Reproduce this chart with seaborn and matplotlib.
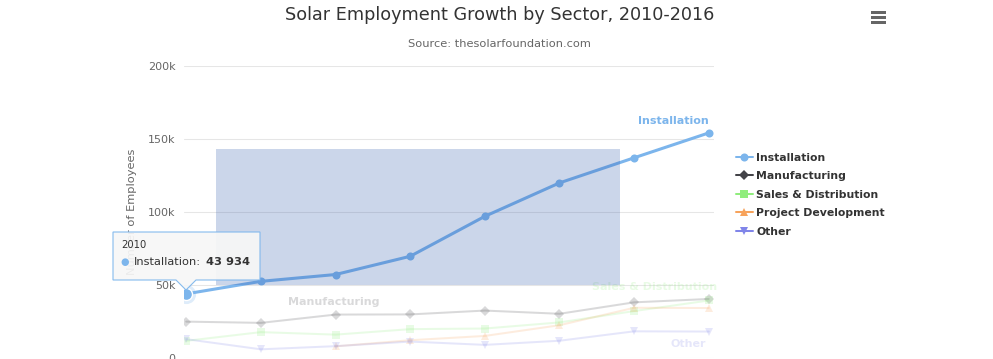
import numpy as np
import pandas as pd
import matplotlib
matplotlib.use("Agg")
import matplotlib.pyplot as plt
import seaborn as sns
from matplotlib.lines import Line2D
from matplotlib.patches import Polygon, Rectangle

# --- Data ---
years = [2010, 2011, 2012, 2013, 2014, 2015, 2016, 2017]
installation = [43934, 52503, 57177, 69658, 97031, 119931, 137133, 154175]
manufacturing = [24916, 24064, 29742, 29851, 32490, 30282, 38121, 40434]
sales_distribution = [11744, 17722, 16005, 19771, 20185, 24377, 32147, 39387]
project_development = [np.nan, np.nan, 7988, 12169, 15112, 22452, 34400, 34227]
other = [12908, 5948, 8105, 11248, 8989, 11816, 18274, 18111]

series_names = ["Installation", "Manufacturing", "Sales & Distribution",
                "Project Development", "Other"]
series_values = [installation, manufacturing, sales_distribution,
                 project_development, other]
colors = ["#7cb5ec", "#434348", "#90ed7d", "#f7a35c", "#8085e9"]
markers = ["o", "D", "s", "^", "v"]
marker_sizes = [5.8, 4.6, 5.4, 5.8, 5.8]

y_ticks = [0, 50000, 100000, 150000, 200000]
y_tick_labels = ["0", "50k", "100k", "150k", "200k"]

W, H = 993, 359


def px(x, y):
    """pixel (from top-left) -> inches for fig.dpi_scale_trans"""
    return (x / 100, (H - y) / 100)


# --- Plot ---
sns.set_theme(style="white")
plt.rcParams["font.family"] = ["DejaVu Sans"]

fig = plt.figure(figsize=(W / 100, H / 100), dpi=100)
ax = fig.add_axes([184 / W, 1 - 358 / H, (714 - 184) / W, (358 - 66) / H])

df = pd.DataFrame({"year": years})
for name, vals, col, mk, ms in zip(series_names, series_values, colors, markers, marker_sizes):
    df[name] = vals
    active = name == "Installation"
    sns.lineplot(x="year", y=name, data=df, ax=ax, color=col, marker=mk,
                 markersize=ms, markeredgewidth=0, linewidth=2.2 if active else 1.45,
                 alpha=1 if active else 0.2, zorder=4 if active else 2,
                 legend=False)

# hovered point
ax.scatter([years[0]], [installation[0]], s=190, color=colors[0], alpha=0.25,
           linewidths=0, zorder=5)
ax.scatter([years[0]], [installation[0]], s=75, color=colors[0],
           edgecolors="white", linewidths=1, zorder=6)

ax.set_xlim(2009.97, 2017.07)
ax.set_ylim(0, 200000)
ax.set_yticks(y_ticks)
ax.set_yticklabels(y_tick_labels, fontsize=8, color="#666666")
ax.set_xticks([])
ax.tick_params(axis="y", length=0, pad=6)
ax.grid(axis="y", color="#e6e6e6", linewidth=0.75)
ax.grid(axis="x", visible=False)
for s in ["left", "right", "top", "bottom"]:
    ax.spines[s].set_visible(False)
ax.set_xlabel("")
ax.set_ylabel("Number of Employees", fontsize=8.2, color="#666666", labelpad=8)

# series labels
label_pos = [(2016.53, 162000), (2011.98, 38500), (2016.27, 48500), None, (2016.73, 9600)]
for name, col, pos in zip(series_names, colors, label_pos):
    if pos is None:
        continue
    ax.text(pos[0], pos[1], name, ha="center", va="center", fontsize=8,
            fontweight="bold", color=col, alpha=1 if name == "Installation" else 0.2,
            zorder=3)

# selection box
sel_x = (2010.40, 2015.81)
sel_y = (50000, 143200)
ax.add_patch(Rectangle((sel_x[0], sel_y[0]), sel_x[1] - sel_x[0], sel_y[1] - sel_y[0],
                       facecolor="#335cad", alpha=0.25, edgecolor="none", zorder=7))

# titles
fig.text(0.503, 1 - 15 / H, "Solar Employment Growth by Sector, 2010-2016",
         ha="center", va="center", fontsize=12.7, color="#333333")
fig.text(0.503, 1 - 44 / H, "Source: thesolarfoundation.com",
         ha="center", va="center", fontsize=8.2, color="#666666")

# legend
handles = [Line2D([0], [0], color=c, marker=m, markersize=ms, linewidth=1.45,
                  markeredgewidth=0) for c, m, ms in zip(colors, markers, marker_sizes)]
leg = fig.legend(handles, series_names, loc="upper left",
                 bbox_to_anchor=(726 / W, 1 - 143 / H), frameon=False,
                 handlelength=1.6, handletextpad=0.3, labelspacing=0.78,
                 prop={"size": 7.8, "weight": "bold"})
for t in leg.get_texts():
    t.set_color("#333333")

# tooltip
tip = [(113, 232), (260, 232), (260, 280), (196, 280), (186, 290), (176, 280), (113, 280)]
fig.patches.append(Polygon([px(*p) for p in tip], closed=True,
                           transform=fig.dpi_scale_trans, facecolor="#f7f7f7",
                           alpha=0.92, edgecolor=colors[0], linewidth=0.8, zorder=10))
fig.text(*px(121, 245), "2010", transform=fig.dpi_scale_trans, fontsize=7.2,
         color="#333333", va="center", zorder=11)
fig.text(*px(120, 262), "\u25cf", transform=fig.dpi_scale_trans, fontsize=7,
         color=colors[0], va="center", zorder=11)
fig.text(*px(134, 262), "Installation:", transform=fig.dpi_scale_trans, fontsize=8.2,
         color="#333333", va="center", zorder=11)
fig.text(*px(206, 262), "43 934", transform=fig.dpi_scale_trans, fontsize=8.2,
         color="#333333", va="center", fontweight="bold", zorder=11)

# menu icon
for yy in [11, 16, 21]:
    fig.patches.append(Rectangle(px(871, yy + 2.5), 0.15, 0.025,
                                 transform=fig.dpi_scale_trans, facecolor="#666666",
                                 edgecolor="none"))

fig.savefig("out.png", dpi=100)
